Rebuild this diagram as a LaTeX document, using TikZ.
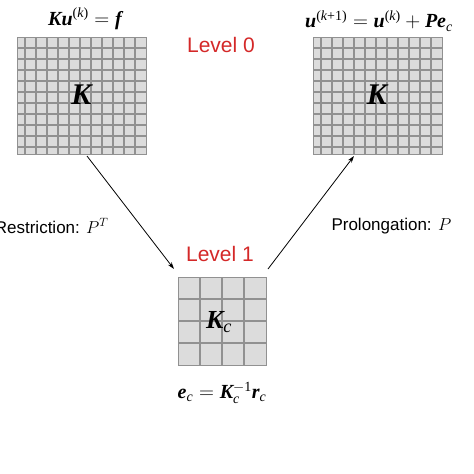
\documentclass[tikz,border=0pt]{standalone}
\usepackage{amsmath}
\usepackage{fontspec}
\setsansfont{Liberation Sans}
\newfontfamily\tms{Liberation Serif}
\usetikzlibrary{arrows.meta}
\newcommand{\bi}[1]{\text{\tms\bfseries\itshape #1}}
\newcommand{\ti}[1]{\text{\tms\itshape #1}}
\newcommand{\tr}[1]{\text{\tms #1}}
\definecolor{cellfill}{RGB}{220,220,220}
\definecolor{cellline}{RGB}{145,145,145}
\definecolor{levelred}{RGB}{212,40,40}
\begin{document}
\begin{tikzpicture}[x=1pt,y=-1pt,
  gridbox/.style={draw=cellline,fill=cellfill,line width=1.2pt,inner sep=0pt,anchor=north west},
  gridline/.style={draw=cellline,line width=1.2pt},
  lvl/.style={font=\sffamily\fontsize{21}{24}\selectfont,text=levelred},
  lbl/.style={font=\sffamily\fontsize{17}{20}\selectfont},
  eqn/.style={font=\fontsize{20}{24}\selectfont},
  arr/.style={-{Stealth[length=7pt,width=4.5pt]},line width=0.8pt,black}]
\useasboundingbox (0,0) rectangle (474,474);
% big grids
\foreach \nm/\L in {gridL/17,gridR/313}{
  \node[gridbox,minimum width=129pt,minimum height=117pt] (\nm) at (\L,37) {};
  \foreach \k in {0,...,10}{
    \draw[gridline] (\L+8+11*\k,37) -- (\L+8+11*\k,154);
  }
  \foreach \k in {1,...,10}{
    \draw[gridline] (\L,37+11*\k) -- (\L+129,37+11*\k);
  }
}
% coarse grid
\node[gridbox,minimum width=88pt,minimum height=88pt] (gridC) at (178,277) {};
\foreach \k in {1,2,3}{
  \draw[gridline] (178+22*\k,277) -- (178+22*\k,365);
  \draw[gridline] (178,277+22*\k) -- (266,277+22*\k);
}
% matrix labels
\node[font=\fontsize{30}{32}\selectfont] (KL) at (81.5,95) {$\bi{K}$};
\node[font=\fontsize{30}{32}\selectfont] (KR) at (377,95) {$\bi{K}$};
\node[font=\fontsize{26}{28}\selectfont] (KC) at (219,322) {$\bi{K}_{\ti{c}}$};
% equations
\node[eqn] (eq1) at (85,19) {$\bi{Ku}^{\tr{(}\ti{k}\tr{)}} = \bi{f}$};
\node[eqn] (eq2) at (379,21) {$\bi{u}^{\tr{(}\ti{k}\tr{+1)}} = \bi{u}^{\tr{(}\ti{k}\tr{)}} + \bi{Pe}_{\ti{c}}$};
\node[eqn] (eq3) at (222,393) {$\bi{e}_{\ti{c}} = \bi{K}_{\ti{c}}^{\tr{$-$1}}\bi{r}_{\ti{c}}$};
% level labels
\node[lvl] (lv0) at (221,45) {Level 0};
\node[lvl] (lv1) at (220,254) {Level 1};
% operator labels
\node[lbl,anchor=east] (restr) at (112,226) {Restriction: $P^T$};
\node[lbl,anchor=west] (prolo) at (328,226) {Prolongation: $P$};
% arrows
\coordinate (a1s) at (87,156);
\coordinate (a1e) at (174,269);
\coordinate (a2s) at (268,269);
\coordinate (a2e) at (354,156);
\draw[arr] (a1s) -- (a1e);
\draw[arr] (a2s) -- (a2e);
\end{tikzpicture}
\end{document}
